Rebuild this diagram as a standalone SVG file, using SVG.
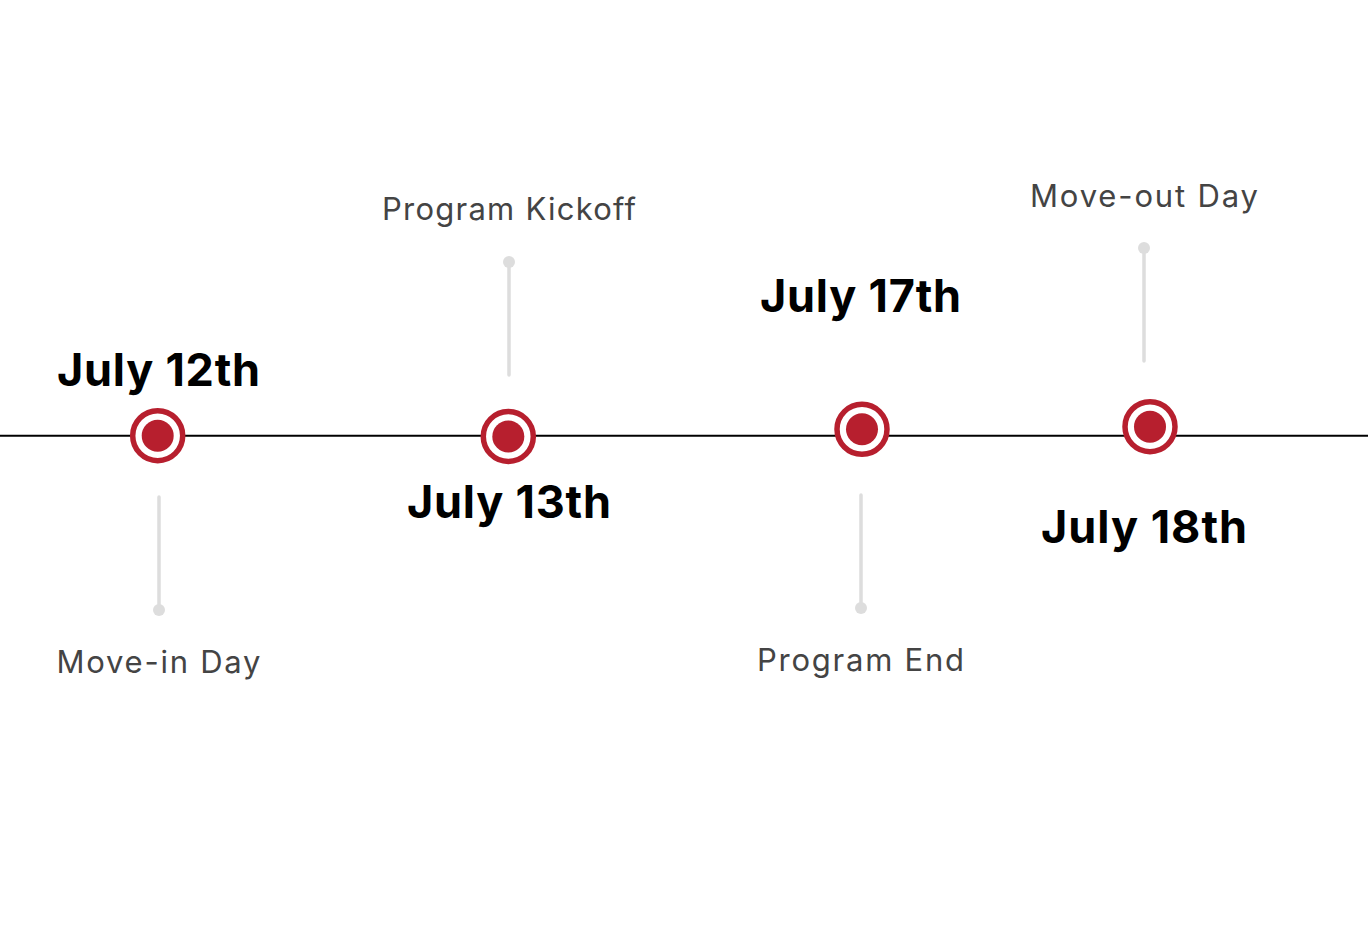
<svg xmlns="http://www.w3.org/2000/svg" width="1371" height="938" viewBox="0 0 1371 938">
<style>
.date{font-family:Inter,"Liberation Sans",sans-serif;font-weight:700;font-size:45px;fill:#000;text-anchor:middle}
.lbl{font-family:Inter,"Liberation Sans",sans-serif;font-weight:400;font-size:31px;fill:#444;text-anchor:middle}
.ring{fill:#fff;stroke:#B71F2E;stroke-width:5.5}
.dot{fill:#B71F2E}
.stem{stroke:#dddddd;stroke-width:3.5;stroke-linecap:round}
.knob{fill:#dddddd}
</style>
<rect width="1371" height="938" fill="#fff"/>
<g id="connectors">
<line x1="0" y1="435.7" x2="1368" y2="435.7" stroke="#000" stroke-width="2"/>
<line class="stem" x1="159" y1="497" x2="159" y2="610"/>
<circle class="knob" cx="159" cy="610" r="6"/>
<line class="stem" x1="509" y1="262" x2="509" y2="375"/>
<circle class="knob" cx="509" cy="262" r="6"/>
<line class="stem" x1="861" y1="495" x2="861" y2="608"/>
<circle class="knob" cx="861" cy="608" r="6"/>
<line class="stem" x1="1144" y1="248" x2="1144" y2="361"/>
<circle class="knob" cx="1144" cy="248" r="6"/>
</g>
<g id="node-july12">
<circle class="ring" cx="157.7" cy="435.7" r="25"/>
<circle class="dot" cx="157.7" cy="435.7" r="16"/>
<text class="date" x="158.5" y="386" textLength="203">July 12th</text>
<text class="lbl" x="158.5" y="673" textLength="204">Move-in Day</text>
</g>
<g id="node-july13">
<circle class="ring" cx="508.3" cy="436.5" r="25"/>
<circle class="dot" cx="508.3" cy="436.5" r="16"/>
<text class="date" x="509" y="518" textLength="204">July 13th</text>
<text class="lbl" x="509" y="220" textLength="254">Program Kickoff</text>
</g>
<g id="node-july17">
<circle class="ring" cx="862" cy="429.3" r="25"/>
<circle class="dot" cx="862" cy="429.3" r="16"/>
<text class="date" x="860.5" y="312" textLength="201">July 17th</text>
<text class="lbl" x="860.5" y="671" textLength="207">Program End</text>
</g>
<g id="node-july18">
<circle class="ring" cx="1150" cy="426.7" r="25"/>
<circle class="dot" cx="1150" cy="426.7" r="16"/>
<text class="date" x="1144" y="543" textLength="206">July 18th</text>
<text class="lbl" x="1144" y="207" textLength="228">Move-out Day</text>
</g>
</svg>
